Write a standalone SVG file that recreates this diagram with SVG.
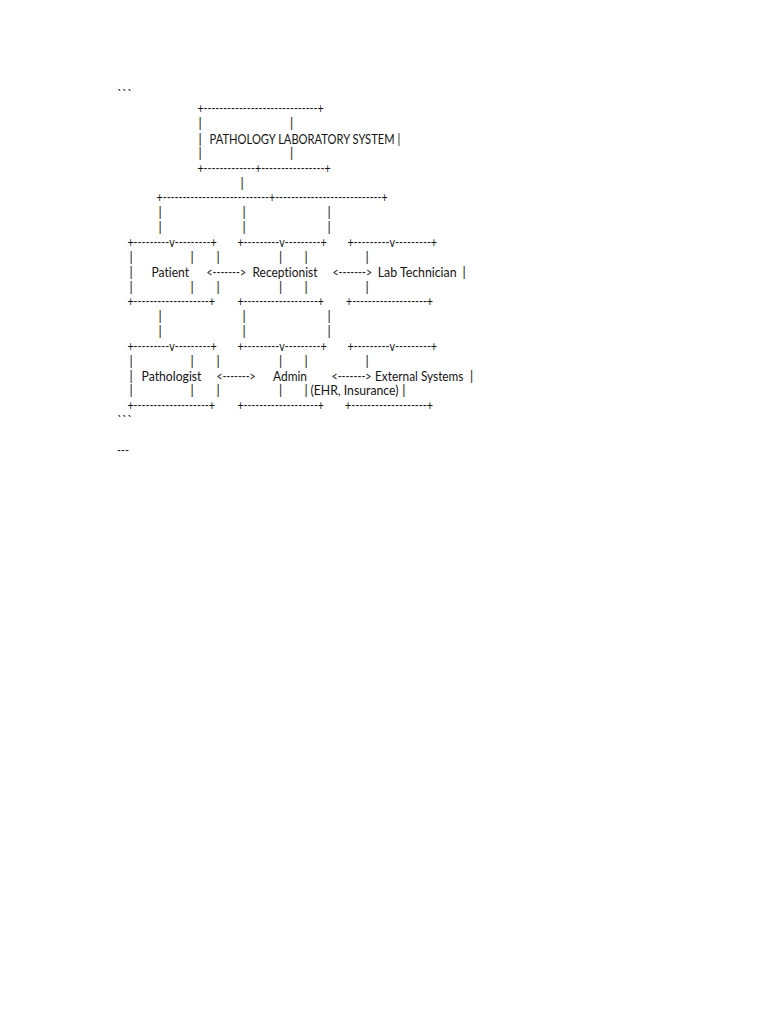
<svg xmlns="http://www.w3.org/2000/svg" width="768" height="1024" viewBox="0 0 768 1024">
<style>
text{font-family:Lato,"Liberation Sans","DejaVu Sans",sans-serif;font-size:12.8px;fill:#111;font-variant-ligatures:none;font-feature-settings:"liga" 0,"clig" 0}
.p{text-anchor:middle}
</style>
<rect x="0" y="0" width="768" height="1024" fill="#ffffff"/>
<g opacity="0.99">
<g id="fences">
<text x="117" y="98.5">```</text>
<text x="117" y="425">```</text>
<text x="117" y="454.8" textLength="12" lengthAdjust="spacingAndGlyphs">---</text>
</g>
<g id="node-title">
<text x="197.4" y="113.3" textLength="126.2" lengthAdjust="spacingAndGlyphs">+-----------------------------+</text>
<text class="p" x="200" y="128.1">|</text><text class="p" x="291.5" y="128.1">|</text>
<text class="p" x="200" y="143.5">|</text>
<text x="209.6" y="143.5" textLength="190.6" lengthAdjust="spacingAndGlyphs">PATHOLOGY LABORATORY SYSTEM |</text>
<text class="p" x="200" y="157.8">|</text><text class="p" x="291.5" y="157.8">|</text>
<text x="197.4" y="172.7" textLength="133.2" lengthAdjust="spacingAndGlyphs">+-------------+----------------+</text>
</g>
<g id="connectors">
<text class="p" x="242" y="187.5">|</text>
<text x="156.6" y="202.4" textLength="231" lengthAdjust="spacingAndGlyphs">+---------------------------+---------------------------+</text>
<text class="p" x="160" y="217.2">|</text><text class="p" x="244" y="217.2">|</text><text class="p" x="329" y="217.2">|</text>
<text class="p" x="160" y="232.1">|</text><text class="p" x="244" y="232.1">|</text><text class="p" x="329" y="232.1">|</text>
<text class="p" x="160" y="321.2">|</text><text class="p" x="244" y="321.2">|</text><text class="p" x="329" y="321.2">|</text>
<text class="p" x="160" y="336">|</text><text class="p" x="244" y="336">|</text><text class="p" x="329" y="336">|</text>
<text x="206.5" y="277" textLength="39.5" lengthAdjust="spacingAndGlyphs">&lt;-------&gt;</text>
<text x="332.5" y="277" textLength="39.5" lengthAdjust="spacingAndGlyphs">&lt;-------&gt;</text>
<text x="216.5" y="381" textLength="39" lengthAdjust="spacingAndGlyphs">&lt;-------&gt;</text>
<text x="331.5" y="381" textLength="40" lengthAdjust="spacingAndGlyphs">&lt;-------&gt;</text>
</g>
<g id="node-patient">
<text x="127.4" y="247" textLength="89.2" lengthAdjust="spacingAndGlyphs">+---------v---------+</text>
<text class="p" x="131" y="261.8">|</text><text class="p" x="192" y="261.8">|</text>
<text class="p" x="131" y="277">|</text>
<text x="151.5" y="277" textLength="37.5" lengthAdjust="spacingAndGlyphs">Patient</text>
<text class="p" x="131" y="291.5">|</text><text class="p" x="192" y="291.5">|</text>
<text x="127.4" y="306.3" textLength="87.6" lengthAdjust="spacingAndGlyphs">+-------------------+</text>
</g>
<g id="node-receptionist">
<text x="237.4" y="247" textLength="89.2" lengthAdjust="spacingAndGlyphs">+---------v---------+</text>
<text class="p" x="218" y="261.8">|</text><text class="p" x="280.5" y="261.8">|</text>
<text x="252.5" y="277" textLength="65" lengthAdjust="spacingAndGlyphs">Receptionist</text>
<text class="p" x="218" y="291.5">|</text><text class="p" x="280.5" y="291.5">|</text>
<text x="237.4" y="306.3" textLength="86.5" lengthAdjust="spacingAndGlyphs">+-------------------+</text>
</g>
<g id="node-lab-technician">
<text x="347.4" y="247" textLength="89.7" lengthAdjust="spacingAndGlyphs">+---------v---------+</text>
<text class="p" x="306" y="261.8">|</text><text class="p" x="367" y="261.8">|</text>
<text x="377.8" y="277" textLength="78.7" lengthAdjust="spacingAndGlyphs">Lab Technician</text>
<text class="p" x="464" y="277">|</text>
<text class="p" x="306" y="291.5">|</text><text class="p" x="367" y="291.5">|</text>
<text x="346" y="306.3" textLength="87" lengthAdjust="spacingAndGlyphs">+-------------------+</text>
</g>
<g id="node-pathologist">
<text x="127.4" y="350.9" textLength="89.2" lengthAdjust="spacingAndGlyphs">+---------v---------+</text>
<text class="p" x="131" y="365.7">|</text><text class="p" x="192" y="365.7">|</text>
<text class="p" x="131" y="381">|</text>
<text x="141.5" y="381" textLength="60" lengthAdjust="spacingAndGlyphs">Pathologist</text>
<text class="p" x="131" y="395.4">|</text><text class="p" x="192" y="395.4">|</text>
<text x="127.4" y="410.3" textLength="87.6" lengthAdjust="spacingAndGlyphs">+-------------------+</text>
</g>
<g id="node-admin">
<text x="237.4" y="350.9" textLength="89.2" lengthAdjust="spacingAndGlyphs">+---------v---------+</text>
<text class="p" x="218" y="365.7">|</text><text class="p" x="280.5" y="365.7">|</text>
<text x="273" y="381" textLength="34" lengthAdjust="spacingAndGlyphs">Admin</text>
<text class="p" x="218" y="395.4">|</text><text class="p" x="280.5" y="395.4">|</text>
<text x="237.4" y="410.3" textLength="86.5" lengthAdjust="spacingAndGlyphs">+-------------------+</text>
</g>
<g id="node-external-systems">
<text x="347.4" y="350.9" textLength="89.7" lengthAdjust="spacingAndGlyphs">+---------v---------+</text>
<text class="p" x="306" y="365.7">|</text><text class="p" x="367" y="365.7">|</text>
<text x="375" y="381" textLength="88.5" lengthAdjust="spacingAndGlyphs">External Systems</text>
<text class="p" x="471.5" y="381">|</text>
<text class="p" x="306" y="395.4">|</text>
<text x="310.5" y="395.4" textLength="88" lengthAdjust="spacingAndGlyphs">(EHR, Insurance)</text>
<text class="p" x="403.8" y="395.4">|</text>
<text x="345" y="410.3" textLength="88" lengthAdjust="spacingAndGlyphs">+-------------------+</text>
</g>
</g>
</svg>
